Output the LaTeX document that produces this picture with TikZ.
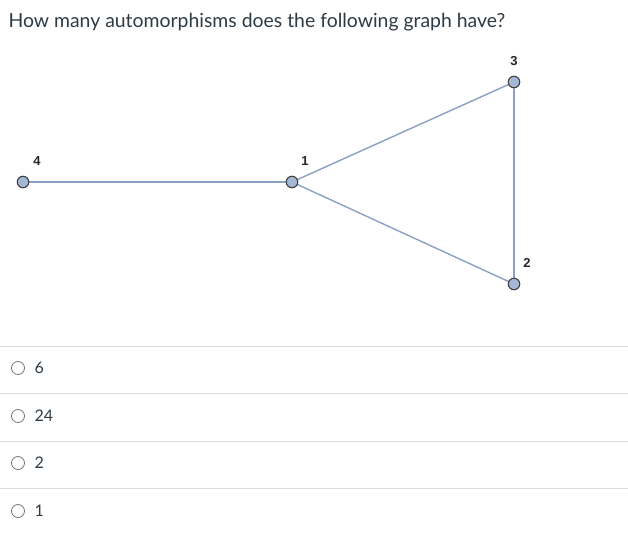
\documentclass[tikz,border=0pt]{standalone}
\usepackage{fontspec}
\setmainfont{Lato}
\newfontfamily\labfont{Liberation Sans Bold}
\begin{document}
\begin{tikzpicture}[x=1pt,y=-1pt,
  vtx/.style={circle,draw=black!75,fill={rgb,255:red,164;green,184;blue,214},line width=1.1pt,minimum size=11.5pt,inner sep=0pt},
  edge/.style={draw={rgb,255:red,140;green,160;blue,196},line width=1.4pt},
  lab/.style={font=\labfont\fontsize{13}{15}\selectfont,text=black!85},
  sep/.style={draw={rgb,255:red,220;green,220;blue,220},line width=0.9pt},
  radio/.style={circle,draw=black!55,line width=0.8pt,minimum size=13pt,inner sep=0pt},
  opt/.style={anchor=west,font=\fontsize{16}{19}\selectfont,text={rgb,255:red,45;green,59;blue,69}}]
\useasboundingbox (0,0) rectangle (628,547);
\fill[white] (0,0) rectangle (628,547);
\node[anchor=west,font=\fontsize{19.4}{23}\selectfont,text={rgb,255:red,45;green,59;blue,69}] (title) at (5,22) {How many automorphisms does the following graph have?};
% graph
\coordinate (c4) at (23,182);
\coordinate (c1) at (292,182);
\coordinate (c3) at (514,82);
\coordinate (c2) at (514,284);
\path[edge] (c4) -- (c1);
\path[edge] (c1) -- (c3);
\path[edge] (c1) -- (c2);
\path[edge] (c3) -- (c2);
\node[vtx] (v4) at (c4) {};
\node[vtx] (v1) at (c1) {};
\node[vtx] (v3) at (c3) {};
\node[vtx] (v2) at (c2) {};
\node[lab] (l4) at (37,161) {4};
\node[lab] (l1) at (305,161) {1};
\node[lab] (l3) at (514,61) {3};
\node[lab] (l2) at (527,263) {2};
% separators
\coordinate (s1a) at (0,346); \coordinate (s1b) at (628,346);
\coordinate (s2a) at (0,393); \coordinate (s2b) at (628,393);
\coordinate (s3a) at (0,441); \coordinate (s3b) at (628,441);
\coordinate (s4a) at (0,488); \coordinate (s4b) at (628,488);
\draw[sep] (s1a) -- (s1b);
\draw[sep] (s2a) -- (s2b);
\draw[sep] (s3a) -- (s3b);
\draw[sep] (s4a) -- (s4b);
% options
\node[radio] (r1) at (18,368) {};
\node[opt] (o1) at (31,368) {6};
\node[radio] (r2) at (18,416) {};
\node[opt] (o2) at (31,416) {24};
\node[radio] (r3) at (18,463) {};
\node[opt] (o3) at (31,463) {2};
\node[radio] (r4) at (18,511) {};
\node[opt] (o4) at (31,511) {1};
\end{tikzpicture}
\end{document}
